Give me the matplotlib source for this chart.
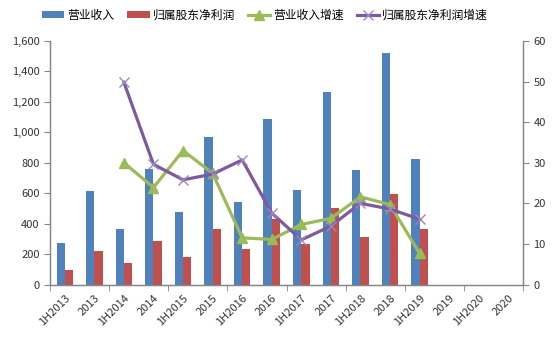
import numpy as np
import matplotlib.pyplot as plt
from matplotlib.ticker import FuncFormatter, FixedLocator

plt.rcParams['font.family'] = ['Noto Sans CJK SC', 'DejaVu Sans']

periods = ['1H2013', '2013', '1H2014', '2014', '1H2015', '2015', '1H2016', '2016',
           '1H2017', '2017', '1H2018', '2018', '1H2019', '2019', '1H2020', '2020']

# 营业收入 / 归属股东净利润 (left axis)
revenue = [276, 613, 362, 760, 479, 971, 540, 1086, 619, 1268, 754, 1521, 822]
net_profit = [94, 221, 140, 289, 179, 368, 232, 430, 265, 503, 311, 595, 366]

# growth rates (right axis), first two periods have none
revenue_growth = [np.nan, np.nan, 30.0, 23.9, 33.0, 27.4, 11.5, 11.1, 14.8, 16.3, 21.6, 19.7, 7.7]
profit_growth = [np.nan, np.nan, 49.8, 29.6, 25.8, 27.2, 30.7, 17.6, 11.0, 14.4, 20.0, 18.6, 16.1]

blue = '#4F81BD'
red = '#C0504D'
green = '#9BBB59'
purple = '#7D5AA0'
axis_gray = '#868686'

fig = plt.figure(figsize=(5.54, 3.46), dpi=100)
ax = fig.add_axes([0.0903, 0.1777, 0.8538, 0.7038])
ax2 = ax.twinx()

x_all = np.arange(len(periods))
x = np.arange(len(revenue))
w = 0.28

ax.bar(x - w / 2, revenue, width=w, color=blue, label='营业收入', zorder=2)
ax.bar(x + w / 2, net_profit, width=w, color=red, label='归属股东净利润', zorder=2)

ax2.plot(x, revenue_growth, color=green, lw=2.3, marker='^', ms=7,
         mfc=green, mec=green, label='营业收入增速', zorder=3)
ax2.plot(x, profit_growth, color=purple, lw=2.3, marker='x', ms=7,
         mew=1.0, mec='#9C86C0', label='归属股东净利润增速', zorder=3)

ax.set_xlim(-0.5, len(periods) - 0.5)
ax.set_ylim(0, 1600)
ax2.set_ylim(0, 60)
ax.set_yticks(np.arange(0, 1601, 200))
ax2.set_yticks(np.arange(0, 61, 10))
ax.yaxis.set_major_formatter(FuncFormatter(lambda v, p: f'{int(v):,}'))

ax.set_xticks(x_all)
ax.set_xticklabels(periods, rotation=45, ha='right', rotation_mode='anchor')
ax.xaxis.set_minor_locator(FixedLocator(np.arange(-0.5, len(periods), 2)))
ax.tick_params(axis='x', which='major', length=0, pad=6, labelsize=8, colors='#333333')
ax.tick_params(axis='x', which='minor', length=4, color=axis_gray)
ax.tick_params(axis='y', length=4, color=axis_gray, labelsize=8, labelcolor='#333333')
ax2.tick_params(axis='y', length=4, color=axis_gray, labelsize=8, labelcolor='#333333')

for a in (ax, ax2):
    a.spines['top'].set_visible(False)
    for s in ('left', 'right', 'bottom'):
        a.spines[s].set_color(axis_gray)
        a.spines[s].set_linewidth(0.9)

h1, l1 = ax.get_legend_handles_labels()
h2, l2 = ax2.get_legend_handles_labels()
fig.legend(h1 + h2, l1 + l2, loc='upper center', bbox_to_anchor=(0.478, 1.005),
           ncol=4, frameon=False, fontsize=8.5, handlelength=1.9,
           handleheight=0.6, columnspacing=1.1, handletextpad=0.25)

fig.savefig('out.png', dpi=100)
